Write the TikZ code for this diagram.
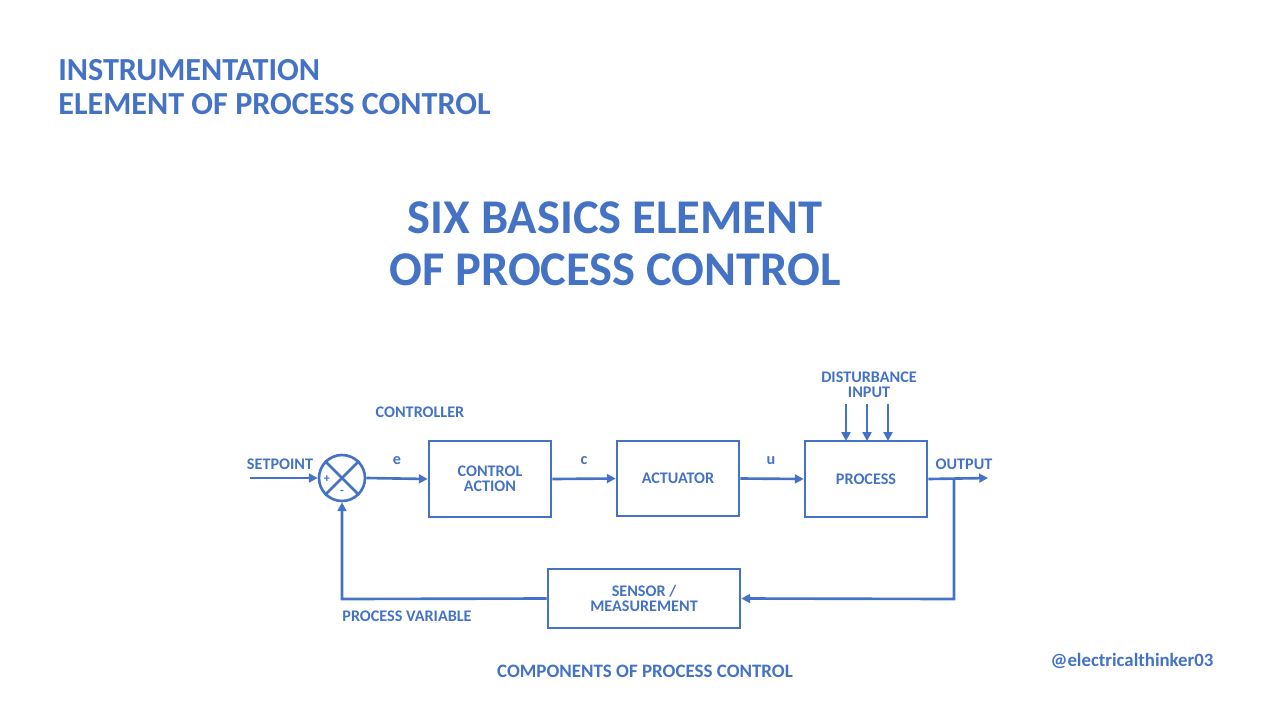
\documentclass[tikz,border=0pt]{standalone}
\usepackage{fontspec}
\setmainfont{Carlito}
\usetikzlibrary{arrows.meta}
\definecolor{bl}{HTML}{4472C4}
\begin{document}
\begin{tikzpicture}[x=0.02cm,y=-0.02cm,
  box/.style={draw=bl,line width=1.5pt,inner sep=0pt,align=center,font=\bfseries\fontsize{9.2}{8.8}\selectfont,text=bl},
  lab/.style={text=bl,font=\bfseries\fontsize{9.2}{8.8}\selectfont,align=center,inner sep=0pt},
  ln/.style={draw=bl,line width=1.5pt},
  ar/.style={ln,-{Triangle[length=5pt,width=5pt]}}]
\useasboundingbox (0,0) rectangle (1280,720);
\node[lab,anchor=west,font=\bfseries\fontsize{18.3}{19.5}\selectfont,align=left] (t1) at (58,87) {INSTRUMENTATION\\ELEMENT OF PROCESS CONTROL};
\node[lab,font=\bfseries\fontsize{27.6}{29.5}\selectfont] (t2) at (615,244) {SIX BASICS ELEMENT\\OF PROCESS CONTROL};
\node[draw=bl,line width=1.5pt,circle,minimum size=0.92cm,inner sep=0pt] (s) at (342,478) {};
\draw[ln] (s.north west)--(s.south east) (s.north east)--(s.south west);
\node[lab,font=\bfseries\fontsize{7}{7}\selectfont] (plus) at (327,479) {+};
\node[lab,font=\bfseries\fontsize{7}{7}\selectfont] (minus) at (342,492) {-};
\node[box,minimum width=2.44cm,minimum height=1.52cm] (ca) at (490,479) {CONTROL\\ACTION};
\node[box,minimum width=2.44cm,minimum height=1.5cm] (ac) at (678,478.5) {ACTUATOR};
\node[box,minimum width=2.44cm,minimum height=1.52cm] (pr) at (866,479) {PROCESS};
\node[box,minimum width=3.84cm,minimum height=1.18cm] (se) at (644,598.5) {SENSOR /\\MEASUREMENT};
\coordinate (sp) at (250,478);
\coordinate (out) at (988,478);
\coordinate (tap) at (954,478);
\coordinate (tapd) at (954,599);
\coordinate (fbl) at (342,599);
\draw[ar] (sp)--(s.west);
\draw[ar] (s.east)--(ca.west);
\draw[ar] (ca.east)--(ac.west);
\draw[ar] (ac.east)--(pr.west);
\draw[ar] (pr.east)--(out);
\draw[ar] (tap)--(tapd)--(se.east);
\draw[ar] (se.west)--(fbl)--(s.south);
\foreach \x/\n in {846/d1,867/d2,888/d3}{
  \coordinate (\n) at (\x,404);
  \draw[ar] (\n)--(\x,441);}
\node[lab] (l1) at (280,464) {SETPOINT};
\node[lab] (l2) at (397,461) {e};
\node[lab] (l3) at (584,461) {c};
\node[lab] (l4) at (771,461) {u};
\node[lab] (l5) at (964,464) {OUTPUT};
\node[lab] (l6) at (869,385) {DISTURBANCE\\INPUT};
\node[lab] (l7) at (420,412) {CONTROLLER};
\node[lab] (l8) at (407,616) {PROCESS VARIABLE};
\node[lab,font=\bfseries\fontsize{10.8}{12}\selectfont] (l9) at (645,671) {COMPONENTS OF PROCESS CONTROL};
\node[lab,font=\bfseries\fontsize{10.7}{12}\selectfont] (l10) at (1132,661) {@electricalthinker03};
\end{tikzpicture}
\end{document}
